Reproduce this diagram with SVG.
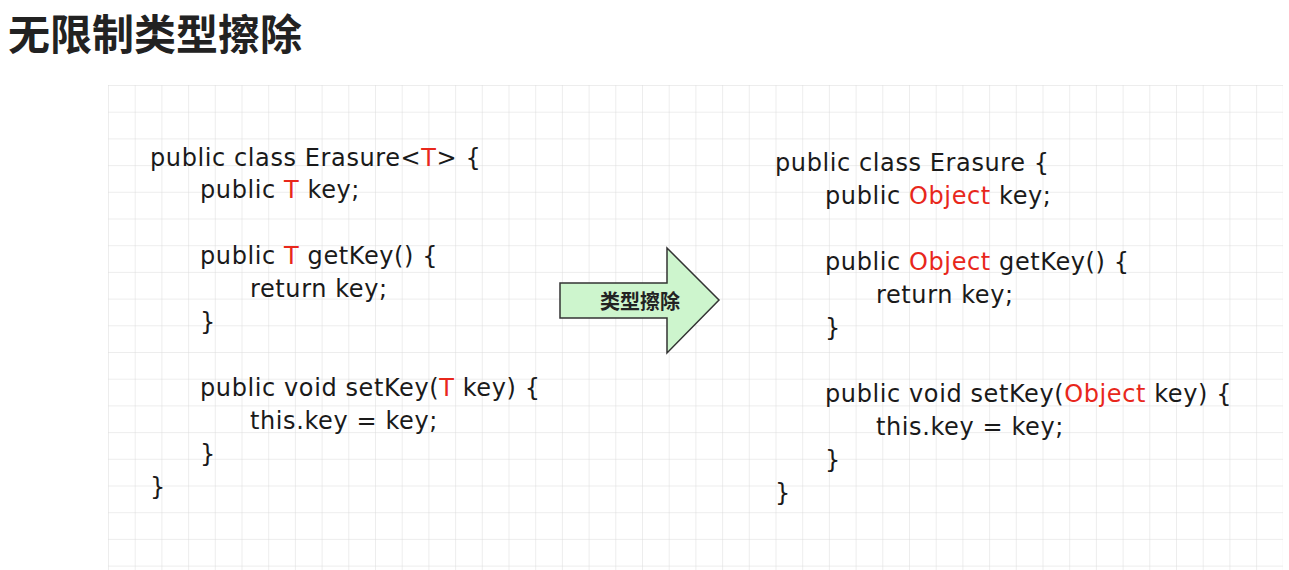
<svg xmlns="http://www.w3.org/2000/svg" width="1289" height="570" viewBox="0 0 1289 570">
<defs>
<pattern id="grid" x="108" y="85" width="26.7" height="26.7" patternUnits="userSpaceOnUse">
<path d="M0 0V26.7M0 0H26.7" fill="none" stroke="#dcdcdc" stroke-width="1"/>
</pattern>
</defs>
<style>
.c{font-family:"DejaVu Sans","Noto Sans",sans-serif;font-size:24px;letter-spacing:0.6px;fill:#1a1a1a}
.r{fill:#e8271b}
.t{font-family:"Noto Sans CJK SC",sans-serif;font-weight:bold}
</style>
<rect width="1289" height="570" fill="#fff"/>
<text class="t" x="8" y="50" font-size="42" fill="#222">无限制类型擦除</text>
<rect x="108" y="85" width="1175" height="485" fill="url(#grid)"/>
<g id="left" class="c">
<text x="150" y="166">public class Erasure&lt;<tspan class="r">T</tspan>&gt; {</text>
<text x="200" y="198">public <tspan class="r">T</tspan> key;</text>
<text x="200" y="264">public <tspan class="r">T</tspan> getKey() {</text>
<text x="250" y="297">return key;</text>
<text x="200" y="330">}</text>
<text x="200" y="396">public void setKey(<tspan class="r">T</tspan> key) {</text>
<text x="250" y="429">this.key = key;</text>
<text x="200" y="462">}</text>
<text x="150" y="495">}</text>
</g>
<g id="arrow">
<path d="M560 283H667V248L719 300L667 353V318H560Z" fill="#cdf5cd" stroke="#333" stroke-width="1.5"/>
<text class="t" x="640" y="309" font-size="20" fill="#222" text-anchor="middle">类型擦除</text>
</g>
<g id="right" class="c">
<text x="775" y="171">public class Erasure {</text>
<text x="825" y="204">public <tspan class="r">Object</tspan> key;</text>
<text x="825" y="270">public <tspan class="r">Object</tspan> getKey() {</text>
<text x="876" y="303">return key;</text>
<text x="825" y="336">}</text>
<text x="825" y="402">public void setKey(<tspan class="r">Object</tspan> key) {</text>
<text x="876" y="435">this.key = key;</text>
<text x="825" y="468">}</text>
<text x="775" y="501">}</text>
</g>
<g id="connectors"/>
</svg>
